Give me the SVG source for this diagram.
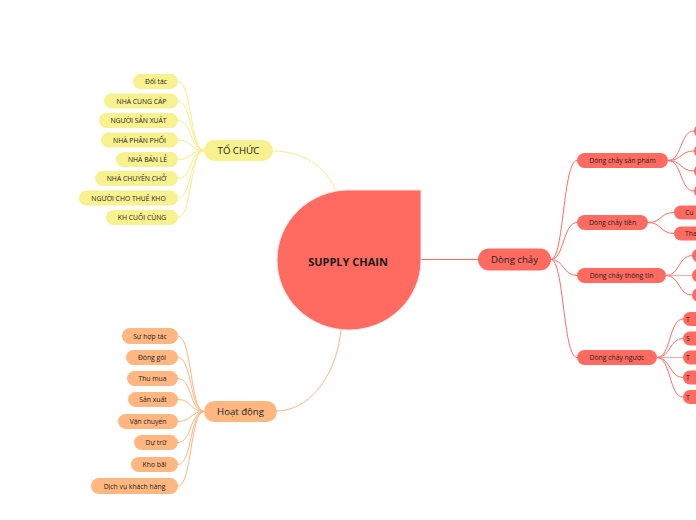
<svg xmlns="http://www.w3.org/2000/svg" width="696" height="520" viewBox="0 0 696 520">
<style>
text{font-family:"Open Sans","Noto Sans","Liberation Sans",sans-serif;fill:#222;text-anchor:middle;dominant-baseline:central}
.y{fill:#f7f18f}
.o{fill:#ffb782}
.r{fill:#ff6b61}
.ly{fill:none;stroke:#f5ed8a;stroke-width:1}
.lo{fill:none;stroke:#ffb580;stroke-width:1}
.lr{fill:none;stroke:#ff6b61;stroke-width:1}
.s{font-size:6.8px}
.m{font-size:7.4px}
.b{font-size:9.6px}
</style>
<rect width="696" height="520" fill="#ffffff"/>
<g id="connectors">
<path class="ly" d="M336 191 C326 166 302 151 273 151"/>
<path class="lo" d="M341 330 C336 380 306 411 277 411"/>
<path class="lr" d="M421 259.5 L478 259.5"/>
<path class="ly" d="M204 150.5 C190 150.5 192 81.5 178 81.5"/>
<path class="ly" d="M204 150.5 C190 150.5 192 101 178 101"/>
<path class="ly" d="M204 150.5 C190 150.5 192 120.5 178 120.5"/>
<path class="ly" d="M204 150.5 C190 150.5 192 140 178 140"/>
<path class="ly" d="M204 150.5 C190 150.5 192 159.5 178 159.5"/>
<path class="ly" d="M204 150.5 C190 150.5 192 178.5 178 178.5"/>
<path class="ly" d="M204 150.5 C190 150.5 192 198 178 198"/>
<path class="ly" d="M204 150.5 C190 150.5 192 217.5 178 217.5"/>
<path class="lo" d="M204 411.5 C190 411.5 192 336 178 336"/>
<path class="lo" d="M204 411.5 C190 411.5 192 357.5 178 357.5"/>
<path class="lo" d="M204 411.5 C190 411.5 192 378.5 178 378.5"/>
<path class="lo" d="M204 411.5 C190 411.5 192 399.5 178 399.5"/>
<path class="lo" d="M204 411.5 C190 411.5 192 421.5 178 421.5"/>
<path class="lo" d="M204 411.5 C190 411.5 192 442.5 178 442.5"/>
<path class="lo" d="M204 411.5 C190 411.5 192 464.5 178 464.5"/>
<path class="lo" d="M204 411.5 C190 411.5 192 486 178 486"/>
<path class="lr" d="M551 259.5 C564 259.5 563 160.5 577 160.5"/>
<path class="lr" d="M551 259.5 C564 259.5 563 222.5 577 222.5"/>
<path class="lr" d="M551 259.5 C564 259.5 563 275.5 577 275.5"/>
<path class="lr" d="M551 259.5 C564 259.5 563 357.5 577 357.5"/>
<path class="lr" d="M668 160.5 C682 160.5 680 131 694 131"/>
<path class="lr" d="M668 160.5 C682 160.5 680 151 694 151"/>
<path class="lr" d="M668 160.5 C682 160.5 680 171 694 171"/>
<path class="lr" d="M668 160.5 C682 160.5 680 191 694 191"/>
<path class="lr" d="M648 222.5 C662 222.5 660 212.5 674 212.5"/>
<path class="lr" d="M648 222.5 C662 222.5 660 233.5 674 233.5"/>
<path class="lr" d="M666 275.5 C680 275.5 678 255.5 692 255.5"/>
<path class="lr" d="M666 275.5 L692 275.5" style="stroke:#ffa9a3"/>
<path class="lr" d="M666 275.5 C680 275.5 678 295 692 295"/>
<path class="lr" d="M657 357.5 C671 357.5 669 319 683 319"/>
<path class="lr" d="M657 357.5 C671 357.5 669 338.5 683 338.5"/>
<path class="lr" d="M657 357.5 L683 357.5" style="stroke:#ffa9a3"/>
<path class="lr" d="M657 357.5 C671 357.5 669 377.5 683 377.5"/>
<path class="lr" d="M657 357.5 C671 357.5 669 397 683 397"/>
</g>
<g id="central">
<path class="r" d="M349 190 L421 190 L421 260 A72 70 0 1 1 349 190 Z" stroke="#f3e6e4" stroke-width="1"/>
<text x="348" y="261" style="font-size:11px;font-weight:bold;fill:#1a1a1a">SUPPLY CHAIN</text>
</g>
<g id="to-chuc">
<rect class="y" x="204" y="140" width="69" height="21" rx="10.5"/>
<text class="b" x="238.5" y="150.5">TỔ CHỨC</text>
</g>
<g id="doi-tac"><rect class="y" x="133" y="74" width="45" height="15" rx="7.5"/><text class="s" x="156" y="81.5">Đối tác</text></g>
<g id="nha-cung-cap"><rect class="y" x="104" y="93.5" width="74" height="15" rx="7.5"/><text class="s" x="141.5" y="101">NHÀ CUNG CẤP</text></g>
<g id="nguoi-san-xuat"><rect class="y" x="99" y="113" width="79" height="15" rx="7.5"/><text class="s" x="138.5" y="120.5">NGƯỜI SẢN XUẤT</text></g>
<g id="nha-phan-phoi"><rect class="y" x="101" y="132.5" width="77" height="15" rx="7.5"/><text class="s" x="139.5" y="140">NHÀ PHÂN PHỐI</text></g>
<g id="nha-ban-le"><rect class="y" x="116" y="152" width="62" height="15" rx="7.5"/><text class="s" x="147.5" y="159.5">NHÀ BÁN LẺ</text></g>
<g id="nha-chuyen-cho"><rect class="y" x="95" y="171" width="83" height="15" rx="7.5"/><text class="s" x="136.5" y="178.5">NHÀ CHUYÊN CHỞ</text></g>
<g id="nguoi-cho-thue-kho"><rect class="y" x="79" y="190.5" width="99" height="15" rx="7.5"/><text class="s" x="128.5" y="198">NGƯỜI CHO THUÊ KHO</text></g>
<g id="kh-cuoi-cung"><rect class="y" x="106" y="210" width="72" height="15" rx="7.5"/><text class="s" x="142" y="217.5">KH CUỐI CÙNG</text></g>
<g id="hoat-dong">
<rect class="o" x="204" y="401" width="73" height="21" rx="10.5"/>
<text class="b" x="240.5" y="411.5">Hoạt động</text>
</g>
<g id="su-hop-tac"><rect class="o" x="122" y="328" width="56" height="16" rx="8"/><text class="s" x="150" y="336">Sự hợp tác</text></g>
<g id="dong-goi"><rect class="o" x="126" y="350" width="52" height="15" rx="7.5"/><text class="s" x="152" y="357.5">Đóng gói</text></g>
<g id="thu-mua"><rect class="o" x="127" y="371" width="51" height="15" rx="7.5"/><text class="s" x="152.5" y="378.5">Thu mua</text></g>
<g id="san-xuat"><rect class="o" x="128" y="392" width="50" height="15" rx="7.5"/><text class="s" x="153" y="399.5">Sản xuất</text></g>
<g id="van-chuyen"><rect class="o" x="118" y="414" width="60" height="15" rx="7.5"/><text class="s" x="148" y="421.5">Vận chuyển</text></g>
<g id="du-tru"><rect class="o" x="134" y="435" width="44" height="15" rx="7.5"/><text class="s" x="156" y="442.5">Dự trữ</text></g>
<g id="kho-bai"><rect class="o" x="131" y="457" width="47" height="15" rx="7.5"/><text class="s" x="154.5" y="464.5">Kho bãi</text></g>
<g id="dich-vu-khach-hang"><rect class="o" x="91" y="478" width="87" height="16" rx="8"/><text class="s" x="134.5" y="486">Dịch vụ khách hàng</text></g>
<g id="dong-chay">
<rect class="r" x="478" y="248.5" width="73" height="22" rx="11"/>
<text class="b" x="514.5" y="259.5">Dòng chảy</text>
</g>
<g id="dc-san-pham"><rect class="r" x="577" y="153" width="91" height="15" rx="7.5"/><text class="s" x="622.5" y="160.5">Dòng chảy sản phẩm</text></g>
<g id="dc-tien"><rect class="r" x="577" y="215" width="71" height="15" rx="7.5"/><text class="s" x="612.5" y="222.5">Dòng chảy tiền</text></g>
<g id="dc-thong-tin"><rect class="r" x="577" y="268" width="89" height="15" rx="7.5"/><text class="s" x="621.5" y="275.5">Dòng chảy thông tin</text></g>
<g id="dc-nguoc"><rect class="r" x="577" y="350" width="80" height="15" rx="7.5"/><text class="s" x="617" y="357.5">Dòng chảy ngược</text></g>
<g id="sp-1"><rect class="r" x="694" y="124" width="30" height="14" rx="7"/></g>
<g id="sp-2"><rect class="r" x="694" y="144" width="30" height="14" rx="7"/></g>
<g id="sp-3"><rect class="r" x="694" y="164" width="30" height="14" rx="7"/></g>
<g id="sp-4"><rect class="r" x="694" y="184" width="30" height="14" rx="7"/></g>
<g id="tien-1"><rect class="r" x="674" y="205.5" width="40" height="14" rx="7"/><text class="s" x="685" y="212.5" style="text-anchor:start">Cu</text></g>
<g id="tien-2"><rect class="r" x="674" y="226.5" width="40" height="14" rx="7"/><text class="s" x="685" y="233.5" style="text-anchor:start">Tha</text></g>
<g id="tt-1"><rect class="r" x="692" y="248.5" width="30" height="14" rx="7"/></g>
<g id="tt-2"><rect class="r" x="692" y="268.5" width="30" height="14" rx="7"/></g>
<g id="tt-3"><rect class="r" x="692" y="288" width="30" height="14" rx="7"/></g>
<g id="ng-1"><rect class="r" x="683" y="312" width="30" height="14" rx="7"/><text class="s" x="686" y="319" style="text-anchor:start">T</text></g>
<g id="ng-2"><rect class="r" x="683" y="331.5" width="30" height="14" rx="7"/><text class="s" x="686" y="338.5" style="text-anchor:start">S</text></g>
<g id="ng-3"><rect class="r" x="683" y="350.5" width="30" height="14" rx="7"/><text class="s" x="686" y="357.5" style="text-anchor:start">T</text></g>
<g id="ng-4"><rect class="r" x="683" y="370.5" width="30" height="14" rx="7"/><text class="s" x="686" y="377.5" style="text-anchor:start">T</text></g>
<g id="ng-5"><rect class="r" x="683" y="390" width="30" height="14" rx="7"/><text class="s" x="686" y="397" style="text-anchor:start">T</text></g>
</svg>
